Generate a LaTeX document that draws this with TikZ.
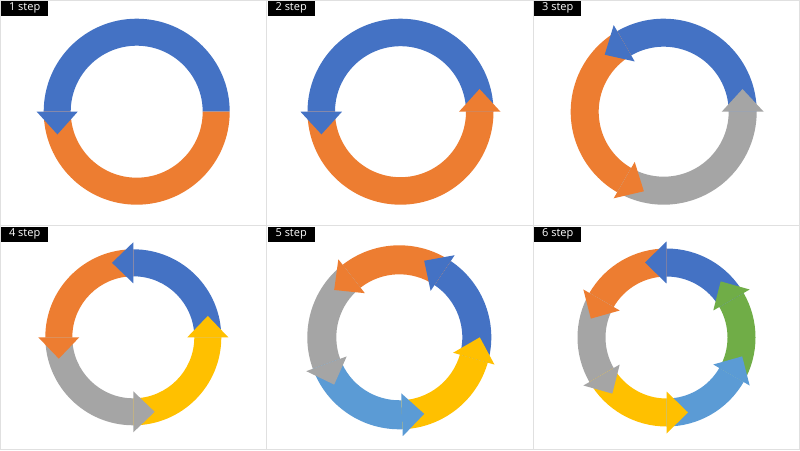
\documentclass[tikz,border=0pt]{standalone}
\usepackage{fontspec}
\setsansfont{Open Sans}
\usetikzlibrary{positioning, calc}
\definecolor{Office-1}{HTML}{4472C4}
\definecolor{Office-2}{HTML}{ED7D31}
\definecolor{Office-3}{HTML}{A5A5A5}
\definecolor{Office-4}{HTML}{FFC000}
\definecolor{Office-5}{HTML}{5B9BD5}
\definecolor{Office-6}{HTML}{70AD47}
\definecolor{Frame}{HTML}{E0E0E0}
% ring piece from angle #2 to #3, head at angle #2
\newcommand{\ringbody}[3]{\fill[#1] (#2:\Rout) arc[start angle=#2, end angle=#3, radius=\Rout] -- (#3:\Rin) arc[start angle=#3, end angle=#2, radius=\Rin] -- cycle;}
\newcommand{\ringhead}[2]{\fill[#1] ({#2}:{\Rin-7}) -- ({#2}:{\Rout+7}) -- ({#2+16}:{(\Rout+\Rin)/2+3}) -- cycle;}

\begin{document}
\begin{tikzpicture}[x=1pt, y=1pt]
          \tikzset{ steplabel/.style={fill=black, text=white, font=\sffamily\fontsize{11}{13}\selectfont, minimum width=47pt, minimum height=15pt, inner sep=0pt, anchor=north west} }
          \tikzset{ grid/.style={draw=Frame, line width=0.8pt} }

          \useasboundingbox (0,0) rectangle (800,450);
          \fill[white] (0,0) rectangle (800,450);
          \draw[grid] (0.5,0.5) rectangle (799.5,449.5);
          \draw[grid] (266.7,0) -- (266.7,450);
          \draw[grid] (533.3,0) -- (533.3,450);
          \draw[grid] (0,225) -- (800,225);

          % 1 step
          \begin{scope}[shift={(136.7,338.3)}]
            \def\Rout{93}\def\Rin{66}
            \ringbody{Office-1}{0}{180}
            \ringbody{Office-2}{180}{360}
            \ringhead{Office-1}{180}
          \end{scope}

          % 2 step
          \begin{scope}[shift={(400.5,338.3)}]
            \def\Rout{93}\def\Rin{65.5}
            \ringbody{Office-1}{0}{180}
            \ringbody{Office-2}{180}{360}
            \ringhead{Office-1}{180}
            \ringhead{Office-2}{360}
          \end{scope}

          % 3 step
          \begin{scope}[shift={(663.7,338.3)}]
            \def\Rout{93}\def\Rin{65}
            \ringbody{Office-1}{0}{120}
            \ringbody{Office-2}{120}{240}
            \ringbody{Office-3}{240}{360}
            \ringhead{Office-1}{120}
            \ringhead{Office-2}{240}
            \ringhead{Office-3}{360}
          \end{scope}

          % 4 step
          \begin{scope}[shift={(133.3,112.7)}]
            \def\Rout{88}\def\Rin{61}
            \ringbody{Office-1}{0}{90}
            \ringbody{Office-2}{90}{180}
            \ringbody{Office-3}{180}{270}
            \ringbody{Office-4}{270}{360}
            \ringhead{Office-1}{90}
            \ringhead{Office-2}{180}
            \ringhead{Office-3}{270}
            \ringhead{Office-4}{360}
          \end{scope}

          % 5 step
          \begin{scope}[shift={(399.3,112.7)}]
            \def\Rout{92}\def\Rin{63}
            \ringbody{Office-1}{-16}{56}
            \ringbody{Office-2}{56}{128}
            \ringbody{Office-3}{128}{200}
            \ringbody{Office-5}{200}{272}
            \ringbody{Office-4}{272}{344}
            \ringhead{Office-1}{56}
            \ringhead{Office-2}{128}
            \ringhead{Office-3}{200}
            \ringhead{Office-5}{272}
            \ringhead{Office-4}{344}
          \end{scope}

          % 6 step
          \begin{scope}[shift={(666.5,112.5)}]
            \def\Rout{89}\def\Rin{61}
            \ringbody{Office-6}{-30}{30}
            \ringbody{Office-1}{30}{90}
            \ringbody{Office-2}{90}{150}
            \ringbody{Office-3}{150}{210}
            \ringbody{Office-4}{210}{270}
            \ringbody{Office-5}{270}{330}
            \ringhead{Office-6}{30}
            \ringhead{Office-1}{90}
            \ringhead{Office-2}{150}
            \ringhead{Office-3}{210}
            \ringhead{Office-4}{270}
            \ringhead{Office-5}{330}
          \end{scope}

          \node[steplabel] (lab1) at (1.0, 449.5) {1 step};
          \node[steplabel] (lab2) at (267.5, 449.5) {2 step};
          \node[steplabel] (lab3) at (534.0, 449.5) {3 step};
          \node[steplabel] (lab4) at (1.0, 223.5) {4 step};
          \node[steplabel] (lab5) at (267.5, 223.5) {5 step};
          \node[steplabel] (lab6) at (534.0, 223.5) {6 step};
\end{tikzpicture}
\end{document}
